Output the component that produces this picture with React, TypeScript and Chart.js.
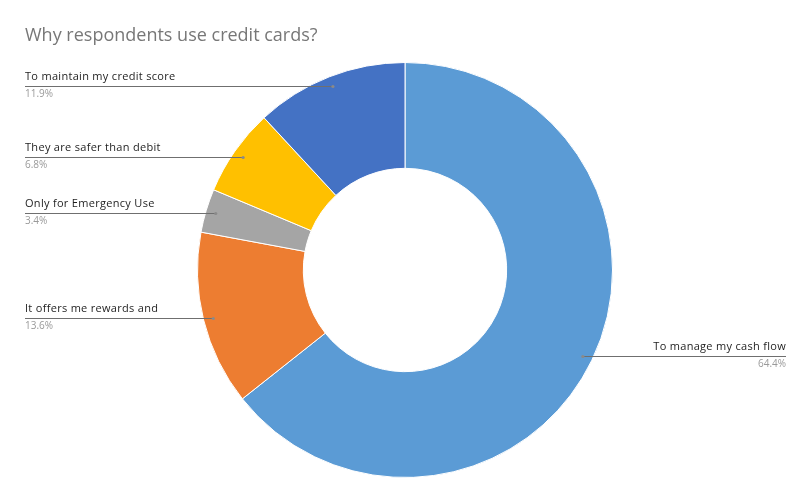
import React, { useEffect, useRef } from "react";
import { Chart, registerables } from "chart.js";

Chart.register(...registerables);

const TITLE = "Why respondents use credit cards?";
const categories = [
  "To manage my cash flow",
  "It offers me rewards and",
  "Only for Emergency Use",
  "They are safer than debit",
  "To maintain my credit score",
];
const percentages = [64.4, 13.6, 3.4, 6.8, 11.9];
const colors = ["#5B9BD5", "#ED7D31", "#A5A5A5", "#FFC000", "#4472C4"];

const labelPlugin = {
  id: "leaderLabels",
  afterDraw(chart: any) {
    const ctx = chart.ctx as CanvasRenderingContext2D;
    const meta = chart.getDatasetMeta(0);
    ctx.save();
    // title
    ctx.font = "18px 'Open Sans'";
    ctx.fillStyle = "#777777";
    ctx.textAlign = "left";
    ctx.textBaseline = "alphabetic";
    ctx.fillText(TITLE, 25, 41);

    const leftX = 25;
    const rightX = 786;
    meta.data.forEach((arc: any, i: number) => {
      const p = arc.getProps(["x", "y", "startAngle", "endAngle", "outerRadius"], true);
      const mid = (p.startAngle + p.endAngle) / 2;
      const r = p.outerRadius * 0.952;
      const px = p.x + Math.cos(mid) * r;
      const py = Math.round(p.y + Math.sin(mid) * r) + 0.5;
      const left = px < p.x;
      ctx.strokeStyle = "#6f6f6f";
      ctx.lineWidth = 1;
      ctx.beginPath();
      if (left) {
        ctx.moveTo(leftX, py);
        ctx.lineTo(px, py);
      } else {
        ctx.moveTo(px, py);
        ctx.lineTo(rightX, py);
      }
      ctx.stroke();
      ctx.fillStyle = "#8a8a8a";
      ctx.beginPath();
      ctx.arc(px, py, 1.6, 0, Math.PI * 2);
      ctx.fill();

      ctx.textAlign = left ? "left" : "right";
      const tx = left ? leftX : rightX;
      (ctx as any).letterSpacing = "0.3px";
      ctx.font = "500 11px 'Open Sans'";
      ctx.fillStyle = "#1e1e1e";
      ctx.fillText(categories[i], tx, py - 7);
      (ctx as any).letterSpacing = "0px";
      ctx.font = "10px 'Open Sans'";
      ctx.fillStyle = "#9a9a9a";
      ctx.fillText(percentages[i].toFixed(1) + "%", tx, py + 10.5);
    });
    ctx.restore();
  },
};

export default function App() {
  const ref = useRef<HTMLCanvasElement>(null);
  useEffect(() => {
    if (!ref.current) return;
    const chart = new Chart(ref.current, {
      type: "doughnut",
      data: {
        labels: categories,
        datasets: [
          {
            data: percentages,
            backgroundColor: colors,
            borderColor: "#ffffff",
            borderWidth: 1,
          },
        ],
      },
      options: {
        responsive: false,
        animation: false,
        cutout: "49%",
        layout: { padding: { top: 62, bottom: 26, left: 197, right: 198 } },
        plugins: {
          legend: { display: false },
          tooltip: { enabled: false },
          title: { display: false },
        },
      },
      plugins: [labelPlugin],
    });
    return () => chart.destroy();
  }, []);
  return (
    <div style={{ position: "fixed", left: 0, top: 0, width: 811, height: 504, background: "#fff" }}>
      <canvas ref={ref} width={811} height={504} style={{ display: "block" }} />
    </div>
  );
}
